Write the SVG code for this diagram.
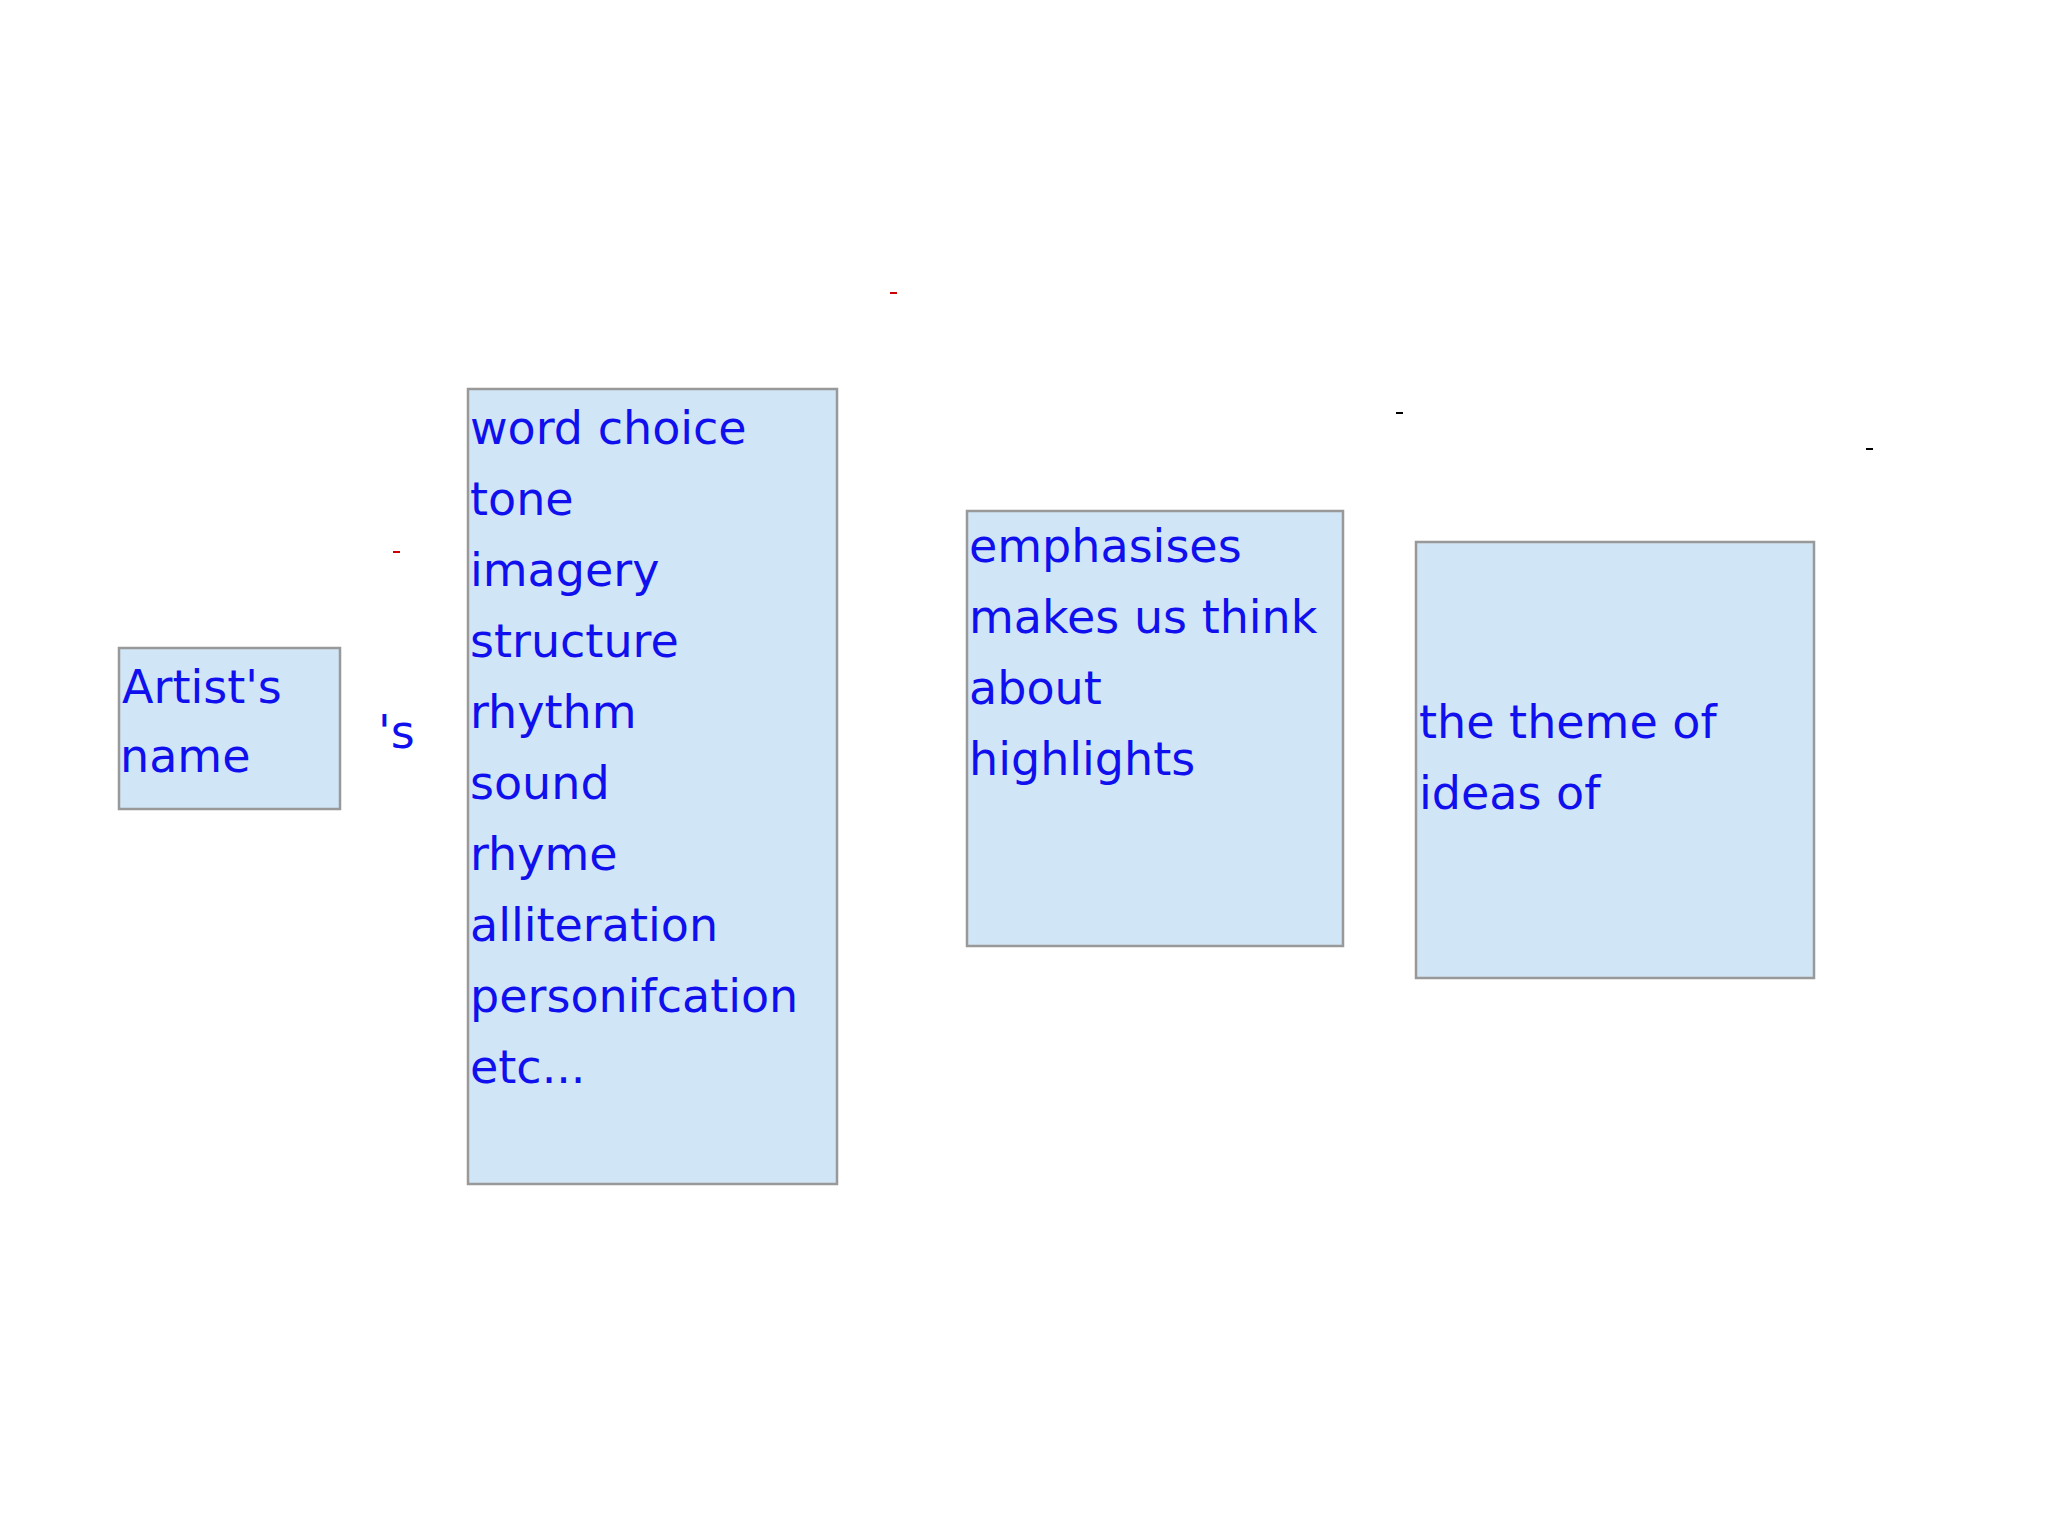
<svg xmlns="http://www.w3.org/2000/svg" width="2048" height="1536" viewBox="0 0 2048 1536">
<style>
.box{fill:#d0e6f6;stroke:#999;stroke-width:2.5}
.t{font-family:"DejaVu Sans",sans-serif;font-size:46px;fill:#1010ee}
</style>
<rect width="2048" height="1536" fill="#fff"/>
<g id="artist"><rect class="box" x="119" y="648" width="221" height="161"/>
<text class="t" x="122" y="703">Artist's</text><text class="t" x="120" y="772">name</text></g>
<g id="s"><text class="t" x="378" y="748">'s</text></g>
<g id="devices"><rect class="box" x="468" y="389" width="369" height="795"/>
<text class="t" x="470"><tspan x="470" y="444">word choice</tspan><tspan x="470" y="515">tone</tspan><tspan x="470" y="586">imagery</tspan><tspan x="470" y="657">structure</tspan><tspan x="470" y="728">rhythm</tspan><tspan x="470" y="799">sound</tspan><tspan x="470" y="870">rhyme</tspan><tspan x="470" y="941">alliteration</tspan><tspan x="470" y="1012">personifcation</tspan><tspan x="470" y="1083">etc...</tspan></text></g>
<g id="verbs"><rect class="box" x="967" y="511" width="376" height="435"/>
<text class="t"><tspan x="969" y="562">emphasises</tspan><tspan x="969" y="633">makes us think</tspan><tspan x="969" y="704">about</tspan><tspan x="969" y="775">highlights</tspan></text></g>
<g id="theme"><rect class="box" x="1416" y="542" width="398" height="436"/>
<text class="t"><tspan x="1419" y="738">the theme of</tspan><tspan x="1419" y="809">ideas of</tspan></text></g>
<g id="connectors">
<line x1="890" y1="293" x2="897" y2="293" stroke="#c00" stroke-width="2"/>
<line x1="393" y1="552" x2="400" y2="552" stroke="#c00" stroke-width="2"/>
<line x1="1396" y1="413" x2="1403" y2="413" stroke="#000" stroke-width="2"/>
<line x1="1866" y1="449" x2="1873" y2="449" stroke="#000" stroke-width="2"/>
</g>
</svg>
